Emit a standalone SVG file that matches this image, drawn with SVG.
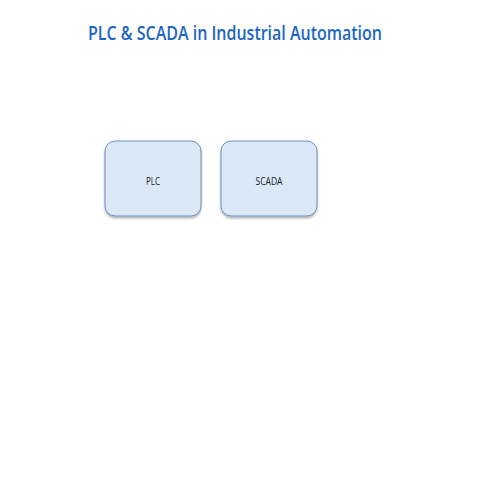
<svg xmlns="http://www.w3.org/2000/svg" width="480" height="480" viewBox="0 0 480 480">
<defs>
<filter id="sh" x="-10%" y="-10%" width="130%" height="130%">
<feDropShadow dx="0" dy="2" stdDeviation="1.2" flood-color="#000" flood-opacity="0.3"/>
</filter>
</defs>
<style>
.box{fill:#dae8f7;stroke:#6d8fbf;stroke-width:1;filter:url(#sh)}
.lbl{font-family:"Open Sans","Liberation Sans",sans-serif;font-size:10px;fill:#1a1a1a;text-anchor:middle}
.title{font-family:"Open Sans","Liberation Sans",sans-serif;font-size:20px;font-weight:600;fill:#1b66c4;text-anchor:middle}
</style>
<rect width="480" height="480" fill="#fff"/>
<text class="title" x="235" y="40" textLength="294" lengthAdjust="spacingAndGlyphs">PLC &amp; SCADA in Industrial Automation</text>
<g id="connectors"></g>
<g id="node-plc">
<rect class="box" x="105" y="141" width="96" height="75" rx="10"/>
<text class="lbl" x="153" y="185" textLength="14" lengthAdjust="spacingAndGlyphs">PLC</text>
</g>
<g id="node-scada">
<rect class="box" x="221" y="141" width="96" height="75" rx="10"/>
<text class="lbl" x="269" y="185" textLength="27" lengthAdjust="spacingAndGlyphs">SCADA</text>
</g>
</svg>
